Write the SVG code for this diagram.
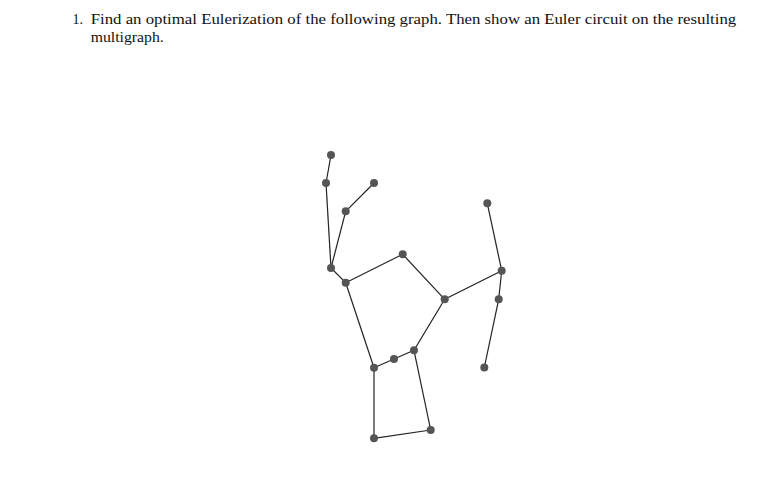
<svg xmlns="http://www.w3.org/2000/svg" width="779" height="477" viewBox="0 0 779 477">
<style>
.t{font-family:"Liberation Serif","DejaVu Serif",serif;font-size:14px;fill:#111}
.e{stroke:#222;stroke-width:1.2;fill:none}
.n{fill:#555;stroke:none}
</style>
<rect width="779" height="477" fill="#fff"/>
<g id="title">
<text class="t" x="72.5" y="24">1.</text>
<text class="t" x="90.7" y="24" textLength="645.5" lengthAdjust="spacingAndGlyphs">Find an optimal Eulerization of the following graph.  Then show an Euler circuit on the resulting</text>
<text class="t" x="90.7" y="41.5" textLength="73" lengthAdjust="spacingAndGlyphs">multigraph.</text>
</g>
<g id="connectors">
<line class="e" x1="331" y1="155" x2="326" y2="183"/>
<line class="e" x1="326" y1="183" x2="331" y2="268"/>
<line class="e" x1="374" y1="183" x2="345.7" y2="211.3"/>
<line class="e" x1="345.7" y1="211.3" x2="331" y2="268"/>
<line class="e" x1="331" y1="268" x2="345.7" y2="282.7"/>
<line class="e" x1="345.7" y1="282.7" x2="402.7" y2="254.3"/>
<line class="e" x1="402.7" y1="254.3" x2="444.7" y2="299.3"/>
<line class="e" x1="444.7" y1="299.3" x2="501.7" y2="270.7"/>
<line class="e" x1="487.3" y1="203.3" x2="501.7" y2="270.7"/>
<line class="e" x1="501.7" y1="270.7" x2="498.7" y2="299.3"/>
<line class="e" x1="498.7" y1="299.3" x2="484.3" y2="367.5"/>
<line class="e" x1="345.7" y1="282.7" x2="374" y2="367.7"/>
<line class="e" x1="444.7" y1="299.3" x2="414" y2="350.3"/>
<line class="e" x1="414" y1="350.3" x2="394" y2="359"/>
<line class="e" x1="394" y1="359" x2="374" y2="367.7"/>
<line class="e" x1="374" y1="367.7" x2="374" y2="438.3"/>
<line class="e" x1="374" y1="438.3" x2="430.7" y2="430"/>
<line class="e" x1="430.7" y1="430" x2="414" y2="350.3"/>
</g>
<g id="n1"><circle class="n" cx="331" cy="155" r="4"/></g>
<g id="n2"><circle class="n" cx="326" cy="183" r="4"/></g>
<g id="n3"><circle class="n" cx="374" cy="183" r="4"/></g>
<g id="n4"><circle class="n" cx="345.7" cy="211.3" r="4"/></g>
<g id="n5"><circle class="n" cx="331" cy="268" r="4"/></g>
<g id="n6"><circle class="n" cx="345.7" cy="282.7" r="4"/></g>
<g id="n7"><circle class="n" cx="402.7" cy="254.3" r="4"/></g>
<g id="n8"><circle class="n" cx="444.7" cy="299.3" r="4"/></g>
<g id="n9"><circle class="n" cx="487.3" cy="203.3" r="4"/></g>
<g id="n10"><circle class="n" cx="501.7" cy="270.7" r="4"/></g>
<g id="n11"><circle class="n" cx="498.7" cy="299.3" r="4"/></g>
<g id="n12"><circle class="n" cx="484.3" cy="367.5" r="4"/></g>
<g id="n13"><circle class="n" cx="414" cy="350.3" r="4"/></g>
<g id="n14"><circle class="n" cx="394" cy="359" r="4"/></g>
<g id="n15"><circle class="n" cx="374" cy="367.7" r="4"/></g>
<g id="n16"><circle class="n" cx="374" cy="438.3" r="4"/></g>
<g id="n17"><circle class="n" cx="430.7" cy="430" r="4"/></g>
</svg>
